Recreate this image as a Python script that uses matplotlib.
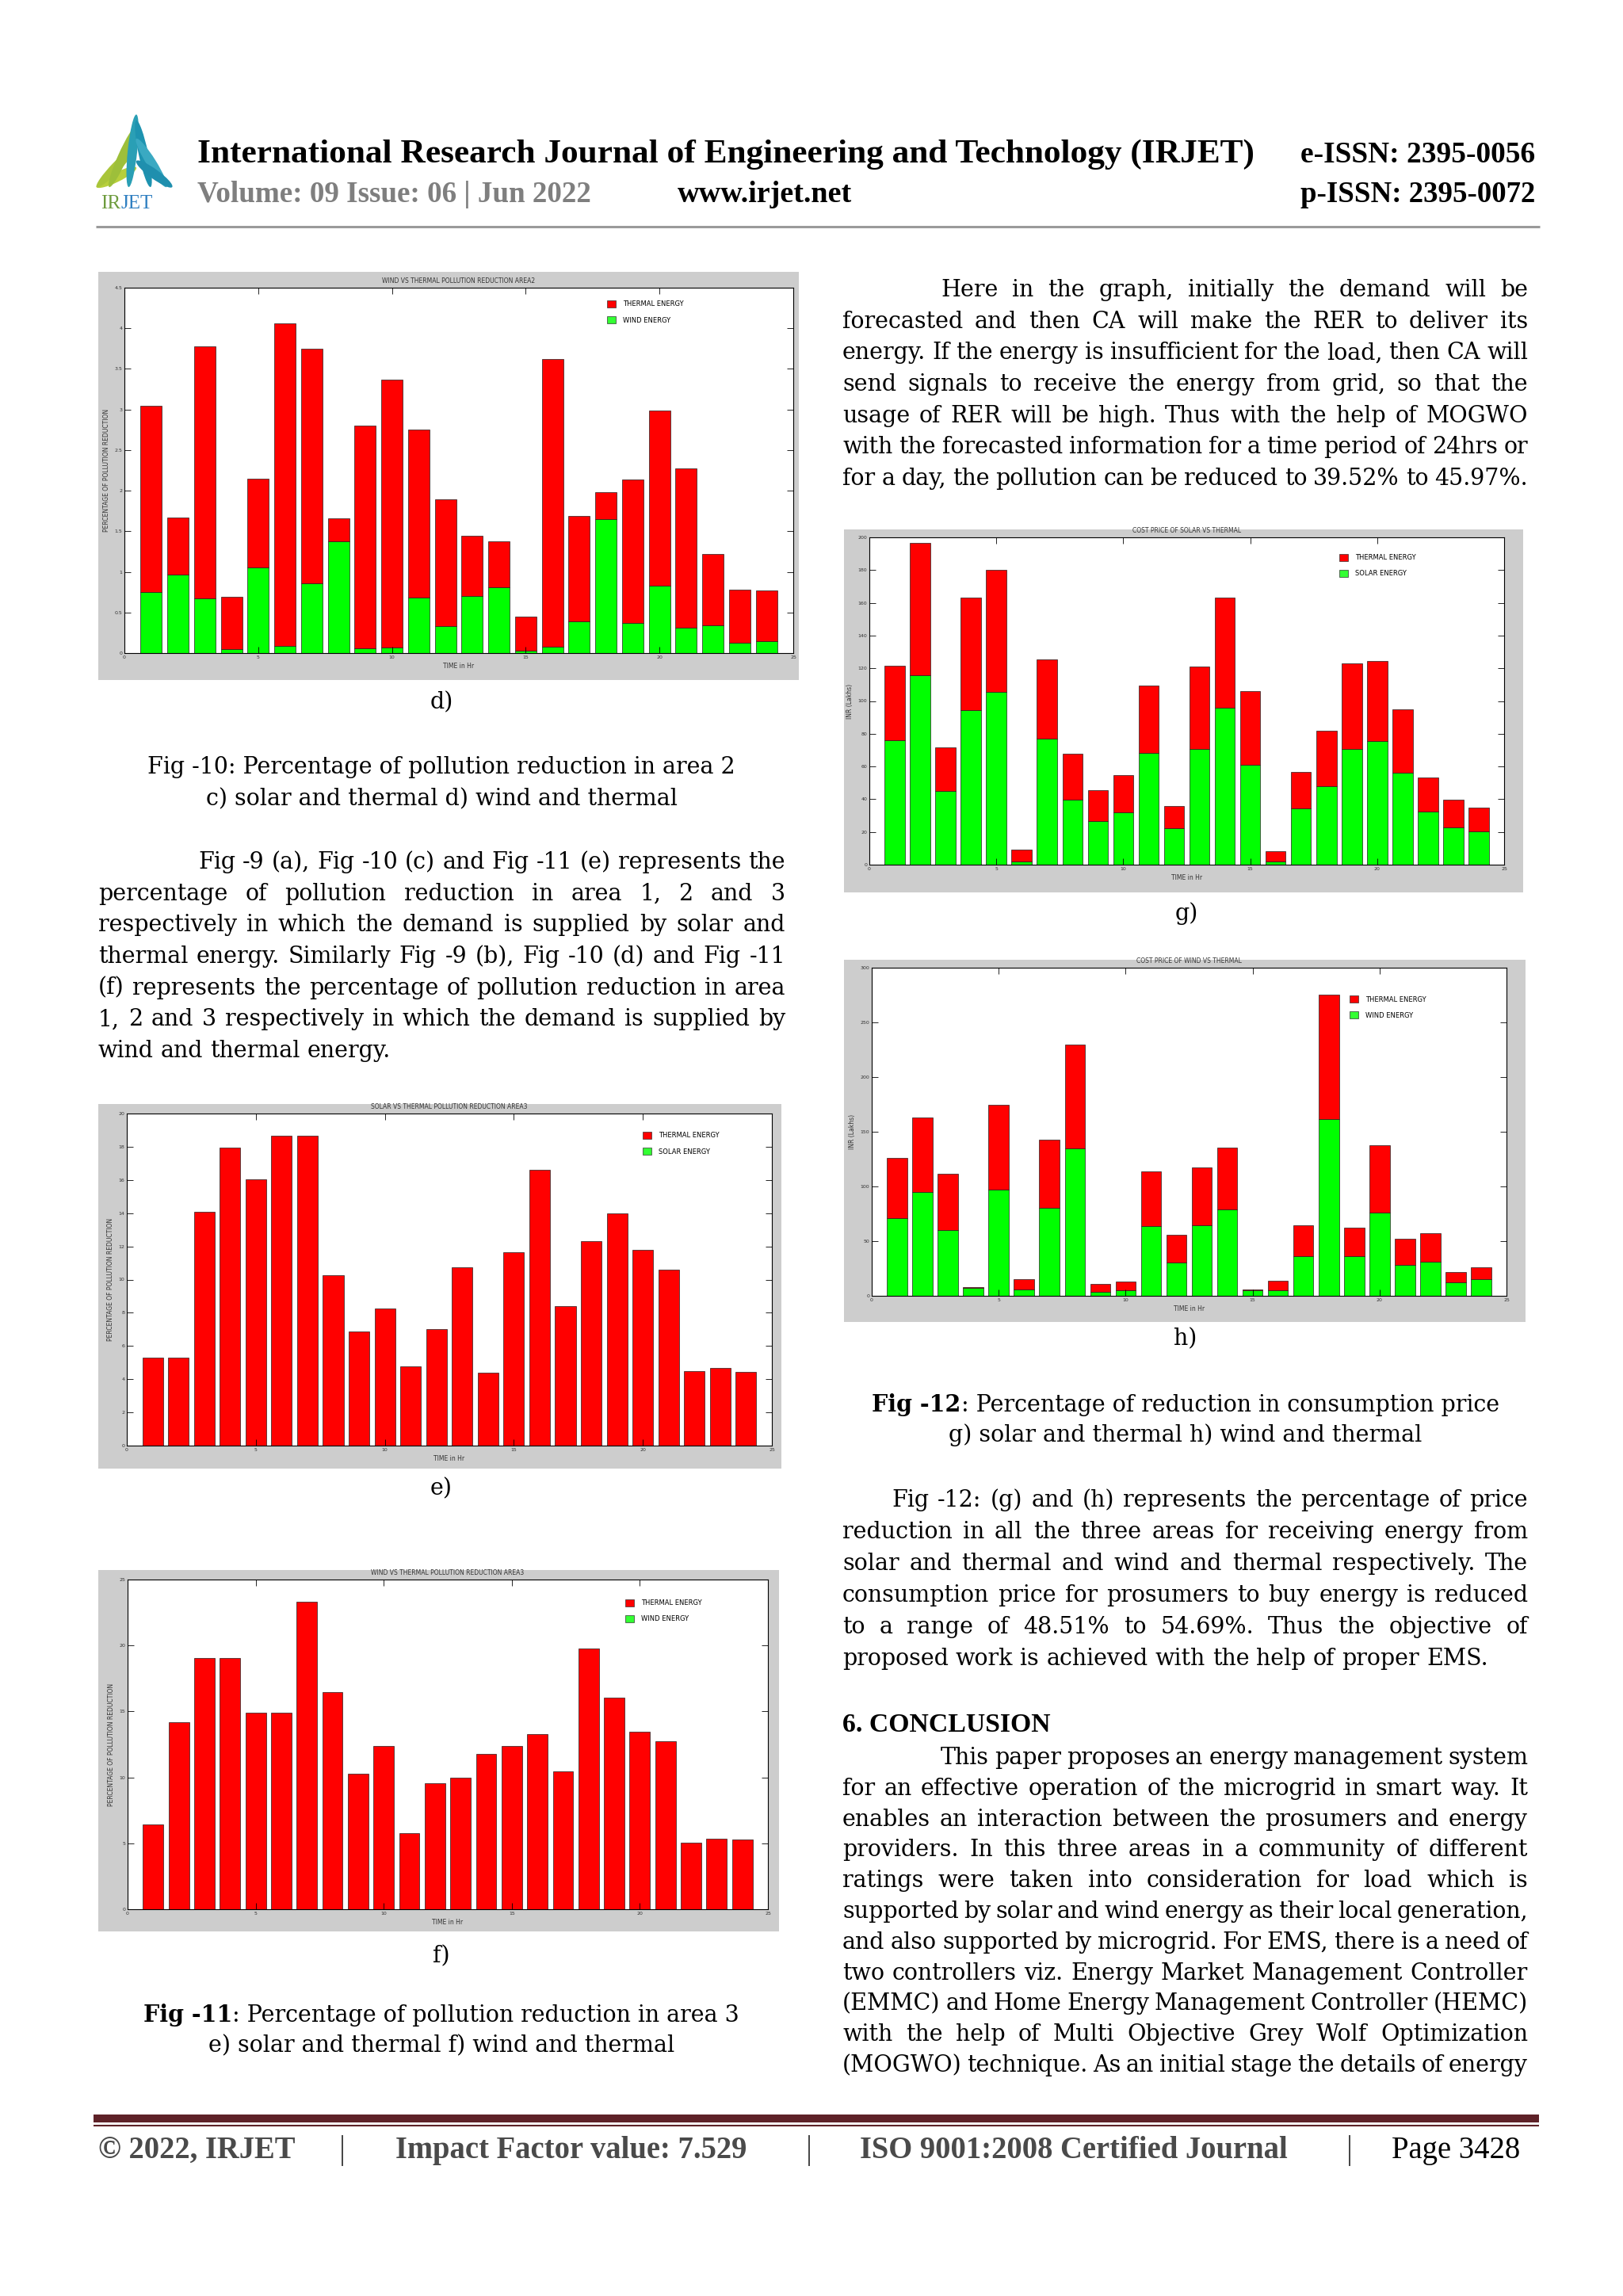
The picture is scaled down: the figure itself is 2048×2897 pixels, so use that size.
import numpy as np
import matplotlib
matplotlib.use('Agg')
import matplotlib.pyplot as plt
from matplotlib.patches import Rectangle, Ellipse, Patch

# ---------------- data ----------------
HOURS = list(range(1, 25))

# d) wind vs thermal pollution reduction area 2
d_wind = [0.75, 0.97, 0.67, 0.05, 1.05, 0.09, 0.86, 1.38, 0.06, 0.07, 0.68, 0.33,
          0.70, 0.81, 0.03, 0.08, 0.39, 1.65, 0.37, 0.83, 0.31, 0.34, 0.13, 0.15]
d_thermal = [2.30, 0.70, 3.11, 0.64, 1.10, 3.97, 2.89, 0.28, 2.74, 3.30, 2.07, 1.56,
             0.74, 0.57, 0.42, 3.54, 1.30, 0.33, 1.77, 2.16, 1.96, 0.88, 0.65, 0.62]

# g) cost price of solar vs thermal
g_solar = [76.0, 115.9, 45.0, 94.3, 105.6, 2.1, 77.0, 39.7, 26.5, 32.0, 68.3, 22.3,
           70.9, 96.0, 61.2, 1.9, 34.5, 47.8, 70.9, 75.5, 56.3, 32.3, 22.8, 20.5]
g_thermal = [45.7, 80.9, 26.8, 68.7, 74.5, 6.9, 48.3, 28.3, 19.0, 22.7, 41.3, 13.7,
             50.0, 67.2, 44.9, 6.2, 22.0, 33.9, 51.9, 49.1, 38.8, 21.1, 16.9, 14.4]

# h) cost price of wind vs thermal
h_wind = [71.1, 95.1, 60.0, 7.0, 97.3, 5.8, 80.6, 135.0, 3.9, 5.1, 63.9, 30.2,
          64.8, 78.9, 4.8, 4.8, 36.1, 161.9, 36.1, 76.0, 28.5, 31.5, 12.3, 15.0]
h_thermal = [55.0, 67.7, 51.5, 1.0, 77.6, 9.4, 61.9, 94.6, 6.7, 7.7, 49.8, 25.7,
             52.3, 56.4, 0.8, 9.0, 28.3, 113.2, 26.1, 61.4, 23.5, 26.1, 9.7, 11.1]

# e) solar vs thermal pollution reduction area 3 (thermal only)
e_thermal = [5.30, 5.30, 14.07, 17.96, 16.04, 18.65, 18.65, 10.25, 6.86, 8.26, 4.79, 7.03,
             10.74, 4.38, 11.66, 16.60, 8.39, 12.32, 13.97, 11.81, 10.60, 4.49, 4.66, 4.42]

# f) wind vs thermal pollution reduction area 3 (thermal only)
f_thermal = [6.41, 14.18, 19.07, 19.07, 14.90, 14.90, 23.32, 16.49, 10.30, 12.36, 5.75, 9.54,
             10.00, 11.78, 12.36, 13.28, 10.48, 19.77, 16.05, 13.44, 12.74, 5.05, 5.35, 5.29]

d_yticks = [0, 0.5, 1, 1.5, 2, 2.5, 3, 3.5, 4, 4.5]
g_yticks = [0, 20, 40, 60, 80, 100, 120, 140, 160, 180, 200]
h_yticks = [0, 50, 100, 150, 200, 250, 300]
e_yticks = [0, 2, 4, 6, 8, 10, 12, 14, 16, 18, 20]
f_yticks = [0, 5, 10, 15, 20, 25]
x_ticks = [0, 5, 10, 15, 20, 25]

# ---------------- page text ----------------
left_par = [
    "Fig -9 (a), Fig -10 (c) and Fig -11 (e) represents the",
    "percentage of pollution reduction in area 1, 2 and 3",
    "respectively in which the demand is supplied by solar and",
    "thermal energy. Similarly Fig -9 (b), Fig -10 (d) and Fig -11",
    "(f) represents the percentage of pollution reduction in area",
    "1, 2 and 3 respectively in which the demand is supplied by",
    "wind and thermal energy.",
]
right_par1 = [
    "Here in the graph, initially the demand will be",
    "forecasted and then CA will make the RER to deliver its",
    "energy. If the energy is insufficient for the load, then CA will",
    "send signals to receive the energy from grid, so that the",
    "usage of RER will be high. Thus with the help of MOGWO",
    "with the forecasted information for a time period of 24hrs or",
    "for a day, the pollution can be reduced to 39.52% to 45.97%.",
]
right_par2 = [
    "Fig -12: (g) and (h) represents the percentage of price",
    "reduction in all the three areas for receiving energy from",
    "solar and thermal and wind and thermal respectively. The",
    "consumption price for prosumers to buy energy is reduced",
    "to a range of 48.51% to 54.69%. Thus the objective of",
    "proposed work is achieved with the help of proper EMS.",
]
concl_par = [
    "This paper proposes an energy management system",
    "for an effective operation of the microgrid in smart way. It",
    "enables an interaction between the prosumers and energy",
    "providers. In this three areas in a community of different",
    "ratings were taken into consideration for load which is",
    "supported by solar and wind energy as their local generation,",
    "and also supported by microgrid. For EMS, there is a need of",
    "two controllers viz. Energy Market Management Controller",
    "(EMMC) and Home Energy Management Controller (HEMC)",
    "with the help of Multi Objective Grey Wolf Optimization",
    "(MOGWO) technique. As an initial stage the details of energy",
]

# ---------------- figure ----------------
W, H = 2048, 2897
fig = plt.figure(figsize=(W / 100, H / 100), dpi=100)
fig.patch.set_facecolor('white')
ov = fig.add_axes([0, 0, 1, 1], zorder=0)
ov.set_xlim(0, W)
ov.set_ylim(H, 0)
ov.axis('off')
ov.patch.set_alpha(0)
R = fig.canvas.get_renderer()

SERIF = 'Liberation Serif'
BODYF = 'DejaVu Serif'
SANS = 'DejaVu Sans'


def width_of(s, size, weight='normal', family=SERIF):
    t = ov.text(0, 0, s, fontsize=size, fontweight=weight, family=family)
    w = t.get_window_extent(renderer=R).width
    t.remove()
    return w


def fit_size(s, target, weight='normal', family=SERIF):
    return 20.0 * target / width_of(s, 20, weight, family)


def put(x, yb, s, size, ha='left', weight='normal', color='black', family=SERIF):
    ov.text(x, yb, s, fontsize=size, fontweight=weight, color=color,
            family=family, ha=ha, va='baseline')


# body size: largest size for which every line fits its column with
# word gaps of at least MINGAP of a normal space
MINGAP = 0.6
cols = [(left_par, 124, 991, 250), (right_par1, 1063, 1928, 1187),
        (right_par2, 1063, 1928, 1125), (concl_par, 1063, 1928, 1187)]
SP20 = width_of('a a', 20, family=BODYF) - width_of('aa', 20, family=BODYF)
ratios = []
for lines, x0, x1, ind in cols:
    for i, ln in enumerate(lines):
        xs = ind if i == 0 else x0
        words = ln.split()
        need = sum(width_of(w, 20, family=BODYF) for w in words) + (len(words) - 1) * SP20 * MINGAP
        ratios.append((x1 - xs) / need)
BODY = min(20 * min(ratios) * 0.995, 22.0)
SPACE = width_of('a a', BODY, family=BODYF) - width_of('aa', BODY, family=BODYF)
BOFF = 9


def draw_par(lines, x0, x1, ind, yc0, dy, last_left=True):
    for i, ln in enumerate(lines):
        yb = yc0 + i * dy + BOFF
        xs = ind if i == 0 else x0
        words = ln.split()
        ws = [width_of(w, BODY, family=BODYF) for w in words]
        if i == len(lines) - 1 and last_left:
            gap = SPACE
        else:
            gap = (x1 - xs - sum(ws)) / (len(words) - 1)
        x = xs
        for w, wd in zip(words, ws):
            put(x, yb, w, BODY, family=BODYF)
            x += wd + gap


def caption(parts, xc, yc):
    # parts: list of (text, weight)
    ws = [width_of(s, BODY, wt, family=BODYF) for s, wt in parts]
    x = xc - sum(ws) / 2
    for (s, wt), wd in zip(parts, ws):
        put(x, yc + BOFF, s, BODY, weight=wt, family=BODYF)
        x += wd


# ---------------- header ----------------
# logo leaves
base = (172, 236)
leaves = [(-64, 56, '#b7cf3c'), (-44, 72, '#a9c53a'), (-24, 84, '#9dbf3a'),
          (-6, 92, '#2a9fb5'), (12, 86, '#1e93b0'), (32, 72, '#3aa9c2'), (54, 56, '#1f8fae')]
for ang, L, col in leaves:
    a = np.deg2rad(ang)
    cx = base[0] + (L / 2) * np.sin(a)
    cy = base[1] - (L / 2) * np.cos(a)
    ov.add_patch(Ellipse((cx, cy), width=12, height=L, angle=-ang,
                         facecolor=col, edgecolor='none'))
lw_ir = width_of('IR', 18)
put(127, 263, 'IR', 18, color='#6d9b3d')
put(127 + lw_ir, 263, 'JET', 18, color='#2f7fc1')

title = 'International Research Journal of Engineering and Technology (IRJET)'
put(249, 205, title, fit_size(title, 1335, 'bold'), weight='bold')
s_e = 'e-ISSN: 2395-0056'
put(1937, 205, s_e, fit_size(s_e, 295, 'bold'), ha='right', weight='bold')
s_v = 'Volume: 09 Issue: 06 | Jun 2022'
put(249, 255, s_v, fit_size(s_v, 497, 'bold'), weight='bold', color='#7f7f7f')
s_w = 'www.irjet.net'
put(855, 255, s_w, fit_size(s_w, 220, 'bold'), weight='bold')
s_p = 'p-ISSN: 2395-0072'
put(1937, 255, s_p, fit_size(s_p, 295, 'bold'), ha='right', weight='bold')
ov.plot([121, 1943], [286, 286], color='#9a9a9a', lw=2.2, solid_capstyle='butt')


# ---------------- charts ----------------
def chart(frame, axbox, title, ylabel, yticks, bottom, top, glabel, leg_xy):
    l, t, r, b = frame
    ov.add_patch(Rectangle((l, t), r - l, b - t, facecolor='#cdcdcd', edgecolor='none'))
    al, at, ar, ab = axbox
    ax = fig.add_axes([al / W, 1 - ab / H, (ar - al) / W, (ab - at) / H], zorder=2)
    if bottom is not None:
        ax.bar(HOURS, bottom, width=0.8, color='#00ff00', edgecolor='#202020', linewidth=0.5)
        ax.bar(HOURS, top, width=0.8, bottom=bottom, color='#ff0000',
               edgecolor='#202020', linewidth=0.5)
    else:
        ax.bar(HOURS, top, width=0.8, color='#ff0000', edgecolor='#202020', linewidth=0.5)
    ax.set_xlim(0, 25)
    ax.set_ylim(yticks[0], yticks[-1])
    ax.set_xticks(x_ticks)
    ax.set_yticks(yticks)
    ax.set_yticklabels([('%g' % v) for v in yticks])
    ax.tick_params(direction='in', top=True, right=True, length=5.5, width=0.6,
                   labelsize=4.5, pad=2, labelcolor='#333333')
    for sp in ax.spines.values():
        sp.set_linewidth(0.8)
    ax.set_title(title, fontsize=5.5, pad=4, color='#333333', family=SANS)
    ax.set_xlabel('TIME in Hr', fontsize=5.5, labelpad=3, color='#333333', family=SANS)
    ax.set_ylabel(ylabel, fontsize=5.5, labelpad=4, color='#333333', family=SANS)
    handles = [Patch(facecolor='#ff0000', edgecolor='#333333', linewidth=0.5),
               Patch(facecolor='#33ff33', edgecolor='#333333', linewidth=0.5)]
    ax.legend(handles, ['THERMAL ENERGY', glabel], loc='upper left', bbox_to_anchor=leg_xy,
              frameon=False, prop={'family': SANS, 'size': 6}, handlelength=1.3,
              handleheight=1.3, labelspacing=1.3, handletextpad=1.1, borderpad=0,
              borderaxespad=0)
    return ax


PCT = 'PERCENTAGE OF POLLUTION REDUCTION'
chart((124, 343, 1008, 858), (157, 363, 1001, 824),
      'WIND VS THERMAL POLLUTION REDUCTION AREA2', PCT, d_yticks,
      d_wind, d_thermal, 'WIND ENERGY', (0.722, 0.965))
chart((1065, 668, 1922, 1126), (1097, 678, 1898, 1091),
      'COST PRICE OF SOLAR VS THERMAL', 'INR (Lakhs)', g_yticks,
      g_solar, g_thermal, 'SOLAR ENERGY', (0.74, 0.95))
chart((1065, 1211, 1925, 1668), (1100, 1221, 1901, 1635),
      'COST PRICE OF WIND VS THERMAL', 'INR (Lakhs)', h_yticks,
      h_wind, h_thermal, 'WIND ENERGY', (0.753, 0.915))
chart((124, 1393, 986, 1853), (160, 1405, 974, 1824),
      'SOLAR VS THERMAL POLLUTION REDUCTION AREA3', PCT, e_yticks,
      None, e_thermal, 'SOLAR ENERGY', (0.80, 0.945))
chart((124, 1981, 983, 2437), (161, 1993, 969, 2409),
      'WIND VS THERMAL POLLUTION REDUCTION AREA3', PCT, f_yticks,
      None, f_thermal, 'WIND ENERGY', (0.777, 0.94))

# ---------------- left column text ----------------
caption([('d)', 'normal')], 557, 885)
caption([('Fig -10: Percentage of pollution reduction in area 2', 'normal')], 557, 967)
caption([('c) solar and thermal d) wind and thermal', 'normal')], 557, 1007)
draw_par(left_par, 124, 991, 250, 1087, 39.7)
caption([('e)', 'normal')], 557, 1877)
caption([('f)', 'normal')], 557, 2467)
caption([('Fig -11', 'bold'), (': Percentage of pollution reduction in area 3', 'normal')], 557, 2542)
caption([('e) solar and thermal f) wind and thermal', 'normal')], 557, 2580)

# ---------------- right column text ----------------
draw_par(right_par1, 1063, 1928, 1187, 365, 39.7, last_left=False)
caption([('g)', 'normal')], 1497, 1152)
caption([('h)', 'normal')], 1496, 1688)
caption([('Fig -12', 'bold'), (': Percentage of reduction in consumption price', 'normal')], 1496, 1772)
caption([('g) solar and thermal h) wind and thermal', 'normal')], 1496, 1810)
draw_par(right_par2, 1063, 1928, 1125, 1892, 40.0)
s_c = '6. CONCLUSION'
put(1063, 2185, s_c, fit_size(s_c, 263, 'bold'), weight='bold')
draw_par(concl_par, 1063, 1928, 1187, 2217, 38.8, last_left=False)

# ---------------- footer ----------------
ov.add_patch(Rectangle((118, 2668), 1824, 10, facecolor='#5e2228', edgecolor='none'))
ov.plot([118, 1942], [2682, 2682], color='#5e2228', lw=1.5, solid_capstyle='butt')
f1 = '\u00a9 2022, IRJET'
fs = fit_size(f1, 248, 'bold')
put(124, 2723, f1, fs, weight='bold', color='#4a4a4a')
put(499, 2723, 'Impact Factor value: 7.529', fs, weight='bold', color='#4a4a4a')
put(1085, 2723, 'ISO 9001:2008 Certified Journal', fs, weight='bold', color='#4a4a4a')
put(1918, 2723, 'Page 3428', fs, ha='right', color='black')
for xsep in (432, 1021, 1703):
    ov.plot([xsep, xsep], [2695, 2732], color='#444444', lw=1.4)

fig.savefig('out.png', dpi=100, facecolor='white')
